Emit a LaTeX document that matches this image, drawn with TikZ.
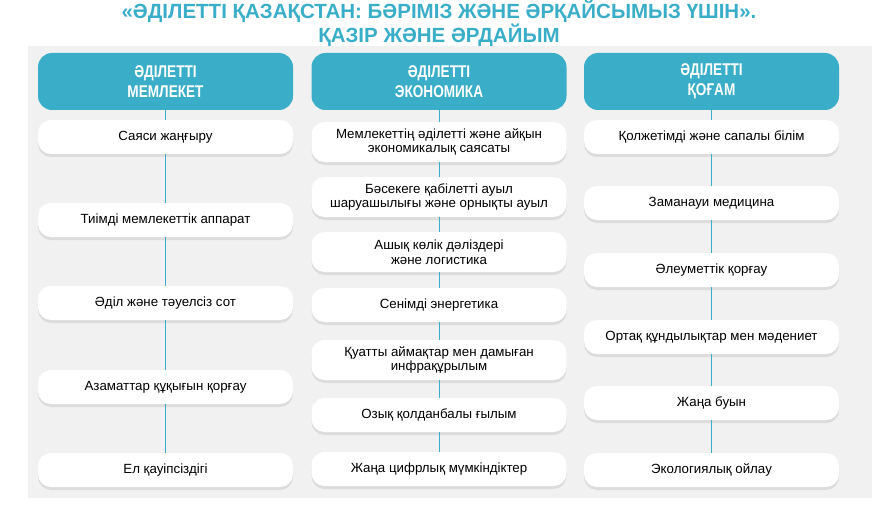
\documentclass[tikz,border=0pt]{standalone}
\usepackage{fontspec}
\setmainfont{Liberation Sans}
\newfontfamily\hdrfont[FakeStretch=0.8]{Liberation Sans}
\usetikzlibrary{shadows}
\definecolor{teal1}{HTML}{3AAEC8}
\definecolor{bg}{HTML}{F1F1F2}
\tikzset{
 hdr/.style={fill=teal1,rounded corners=14pt,minimum width=255pt,minimum height=57pt,text=white,font=\hdrfont\bfseries\fontsize{17}{20}\selectfont,align=center},
 item/.style={fill=white,rounded corners=13pt,minimum width=255pt,minimum height=34pt,font=\fontsize{13.3}{14.5}\selectfont,align=center,drop shadow={shadow xshift=0pt,shadow yshift=-3pt,opacity=0.18}},
 link/.style={teal1,line width=0.9pt}
}
\begin{document}
\begin{tikzpicture}[x=1pt,y=-1pt]
\useasboundingbox (0,0) rectangle (878,508);
\fill[white] (0,0) rectangle (878,508);
\fill[bg] (28,46) rectangle (872,498);
\node[text=teal1,font=\bfseries\fontsize{20.5}{19}\selectfont,align=center] (title) at (439,23) {«ӘДІЛЕТТІ ҚАЗАҚСТАН: БӘРІМІЗ ЖӘНЕ ӘРҚАЙСЫМЫЗ ҮШІН».\\ҚАЗІР ЖӘНЕ ӘРДАЙЫМ};
% column 1
\node[hdr] (h1) at (165.5,81.5) {ӘДІЛЕТТІ\\МЕМЛЕКЕТ};
\node[item] (a1) at (165.5,137) {Саяси жаңғыру};
\node[item] (a2) at (165.5,220) {Тиімді мемлекеттік аппарат};
\node[item] (a3) at (165.5,303) {Әділ және тәуелсіз сот};
\node[item] (a4) at (165.5,387) {Азаматтар құқығын қорғау};
\node[item] (a5) at (165.5,470) {Ел қауіпсіздігі};
% column 2
\node[hdr] (h2) at (439,81.5) {ӘДІЛЕТТІ\\ЭКОНОМИКА};
\node[item,minimum height=40pt] (b1) at (439,142) {Мемлекеттің әділетті және айқын\\экономикалық саясаты};
\node[item,minimum height=40pt] (b2) at (439,197) {Бәсекеге қабілетті ауыл\\шаруашылығы және орнықты ауыл};
\node[item,minimum height=40pt] (b3) at (439,252) {Ашық көлік дәліздері\\және логистика};
\node[item] (b4) at (439,305) {Сенімді энергетика};
\node[item,minimum height=40pt] (b5) at (439,360) {Қуатты аймақтар мен дамыған\\инфрақұрылым};
\node[item] (b6) at (439,415) {Озық қолданбалы ғылым};
\node[item] (b7) at (439,469) {Жаңа цифрлық мүмкіндіктер};
% column 3
\node[hdr] (h3) at (711.5,81.5) {ӘДІЛЕТТІ\\ҚОҒАМ};
\node[item] (c1) at (711.5,137) {Қолжетімді және сапалы білім};
\node[item] (c2) at (711.5,203) {Заманауи медицина};
\node[item] (c3) at (711.5,270) {Әлеуметтік қорғау};
\node[item] (c4) at (711.5,337) {Ортақ құндылықтар мен мәдениет};
\node[item] (c5) at (711.5,403) {Жаңа буын};
\node[item] (c6) at (711.5,470) {Экологиялық ойлау};
\draw[link] (h1) -- (a1) (a1) -- (a2) (a2) -- (a3) (a3) -- (a4) (a4) -- (a5);
\draw[link] (h2) -- (b1) (b1) -- (b2) (b2) -- (b3) (b3) -- (b4) (b4) -- (b5) (b5) -- (b6) (b6) -- (b7);
\draw[link] (h3) -- (c1) (c1) -- (c2) (c2) -- (c3) (c3) -- (c4) (c4) -- (c5) (c5) -- (c6);
\end{tikzpicture}
\end{document}
